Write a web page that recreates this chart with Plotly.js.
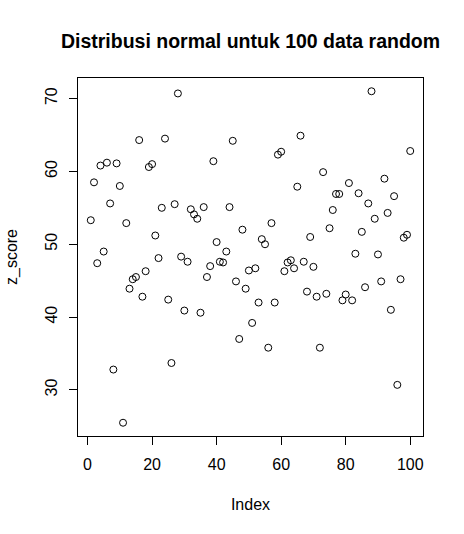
<!DOCTYPE html>
<html>
<head>
<meta charset="utf-8">
<script src="https://cdn.plot.ly/plotly-3.0.1.min.js"></script>
<style>
  html, body { margin: 0; padding: 0; background: #fff; }
  #chart { width: 464px; height: 534px; }
</style>
</head>
<body>
<div id="chart"></div>
<script>
// z_score of 100 random values (index 1..100)
var z_score = [
  53.3, 58.5, 47.4, 60.8, 49.0, 61.2, 55.6, 32.8, 61.1, 58.0,
  25.5, 52.9, 43.9, 45.2, 45.5, 64.3, 42.8, 46.3, 60.6, 61.0,
  51.2, 48.1, 55.0, 64.5, 42.4, 33.7, 55.5, 70.7, 48.3, 40.9,
  47.6, 54.8, 54.1, 53.5, 40.6, 55.1, 45.5, 47.0, 61.4, 50.3,
  47.6, 47.5, 49.0, 55.1, 64.2, 44.9, 37.0, 52.0, 43.9, 46.4,
  39.2, 46.7, 42.0, 50.7, 50.0, 35.8, 52.9, 42.0, 62.3, 62.7,
  46.3, 47.5, 47.8, 46.7, 57.9, 64.9, 47.6, 43.5, 51.0, 46.9,
  42.8, 35.8, 59.9, 43.2, 52.2, 54.7, 56.9, 56.9, 42.3, 43.1,
  58.4, 42.3, 48.7, 57.0, 51.7, 44.1, 55.6, 71.0, 53.5, 48.6,
  44.9, 59.0, 54.3, 41.0, 56.6, 30.7, 45.2, 50.9, 51.3, 62.8
];
var index = z_score.map(function(v, i){ return i + 1; });

var x_ticks = [0, 20, 40, 60, 80, 100];
var y_ticks = [30, 40, 50, 60, 70];

// R style axis range: data range stretched by 4%
function r_range(arr){
    var lo = Math.min.apply(null, arr), hi = Math.max.apply(null, arr);
    var pad = (hi - lo) * 0.04;
    return [lo - pad, hi + pad];
}

var points = {
    x: index,
    y: z_score,
    mode: 'markers',
    type: 'scatter',
    marker: {symbol: 'circle-open', size: 7, color: '#000', line: {width: 1, color: '#000'}},
    hoverinfo: 'x+y'
};

var axis_font = {family: 'Liberation Sans, Arial, sans-serif', size: 16, color: '#000'};

var layout = {
    width: 464,
    height: 534,
    margin: {l: 78, r: 41, t: 78, b: 98, pad: 0},
    paper_bgcolor: '#fff',
    plot_bgcolor: '#fff',
    showlegend: false,
    font: axis_font,
    title: {
        text: '<b>Distribusi normal untuk 100 data random</b>',
        font: {family: 'Liberation Sans, Arial, sans-serif', size: 19.5, color: '#000'},
        x: 0.5, xref: 'paper', xanchor: 'center',
        y: 1 - 41 / 534, yref: 'container', yanchor: 'middle'
    },
    xaxis: {
        range: r_range(index),
        tickvals: x_ticks,
        ticktext: x_ticks.map(String),
        ticks: 'outside', ticklen: 8, tickwidth: 1, tickcolor: '#000',
        showline: true, mirror: true, linecolor: '#000', linewidth: 1,
        showgrid: false, zeroline: false, fixedrange: true,
        tickfont: axis_font,
        ticklabelstandoff: 6,
        title: {text: 'Index', font: axis_font, standoff: 26}
    },
    yaxis: {
        range: r_range(z_score),
        tickvals: y_ticks,
        ticktext: y_ticks.map(String),
        tickangle: -90,
        ticks: 'outside', ticklen: 8, tickwidth: 1, tickcolor: '#000',
        showline: true, mirror: true, linecolor: '#000', linewidth: 1,
        showgrid: false, zeroline: false, fixedrange: true,
        tickfont: axis_font,
        ticklabelstandoff: 6,
        title: {text: 'z_score', font: axis_font, standoff: 20}
    }
};

Plotly.newPlot('chart', [points], layout, {displayModeBar: false, staticPlot: true});
</script>
</body>
</html>
